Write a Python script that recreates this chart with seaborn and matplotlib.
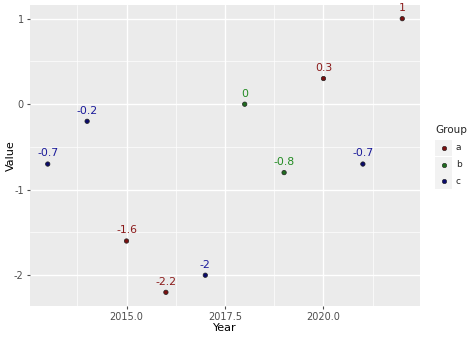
import matplotlib
matplotlib.use("Agg")
import matplotlib.pyplot as plt
import seaborn as sns
import pandas as pd
from matplotlib.lines import Line2D
from matplotlib.patches import Rectangle

years = [2013, 2014, 2015, 2016, 2017, 2018, 2019, 2020, 2021, 2022]
values = [-0.7, -0.2, -1.6, -2.2, -2.0, 0.0, -0.8, 0.3, -0.7, 1.0]
groups = ["c", "c", "a", "a", "c", "b", "b", "a", "c", "a"]
labels = ["-0.7", "-0.2", "-1.6", "-2.2", "-2", "0", "-0.8", "0.3", "-0.7", "1"]
group_levels = ["a", "b", "c"]
point_colors = {"a": "#7a1010", "b": "#1f6b1f", "c": "#0b0b6b"}
text_colors = {"a": "#8B1A1A", "b": "#228B22", "c": "#1a1a9a"}

df = pd.DataFrame({"Year": years, "Value": values, "Group": groups, "Label": labels})

sns.set_theme(style="darkgrid", rc={"axes.facecolor": "#EBEBEB", "grid.color": "white"})
plt.rcParams['font.family'] = ['DejaVu Sans']

fig = plt.figure(figsize=(4.74, 3.38), dpi=100)
ax = fig.add_axes([30/474, 1 - 306/338, 390/474, 301/338])

sns.scatterplot(data=df, x="Year", y="Value", hue="Group", hue_order=group_levels,
                palette=point_colors, s=10, edgecolor="#222222", linewidth=0.5,
                legend=False, ax=ax, zorder=3)

for x, y, g, t in zip(df.Year, df.Value, df.Group, df.Label):
    ax.annotate(t, (x, y), xytext=(0, 4), textcoords="offset points", ha="center",
                va="bottom", color=text_colors[g], fontsize=7.8, clip_on=False,
                annotation_clip=False)

ax.set_xlim(2012.55, 2022.45)
ax.set_ylim(-2.36, 1.16)
ax.set_xticks([2015.0, 2017.5, 2020.0])
ax.set_xticklabels(["2015.0", "2017.5", "2020.0"])
ax.set_yticks([-2, -1, 0, 1])
ax.set_yticklabels(["-2", "-1", "0", "1"])
ax.set_xticks([2013.75, 2016.25, 2018.75, 2021.25], minor=True)
ax.set_yticks([-1.5, -0.5, 0.5], minor=True)
ax.grid(which="major", color="white", linewidth=1.0)
ax.grid(which="minor", color="white", linewidth=0.5)
ax.tick_params(axis="both", which="major", labelsize=7, colors="#4D4D4D", length=2.5,
               width=0.8, direction="out", pad=2, bottom=True, left=True)
ax.tick_params(axis="both", which="minor", length=0, bottom=False, left=False)
for sp in ax.spines.values():
    sp.set_visible(False)
ax.set_xlabel("Year", fontsize=8, color="black", va="center")
ax.set_ylabel("Value", fontsize=8, color="black", va="center")
ax.xaxis.set_label_coords((225 - 30) / 390, (306 - 328) / 301)
ax.yaxis.set_label_coords((11 - 30) / 390, 0.5)

# legend
fig.text(435/474, 1 - 130/338, "Group", fontsize=7.5, va="center", ha="left")
key_y = [148, 165, 181]
for g, ky in zip(group_levels, key_y):
    fig.patches.append(Rectangle((435/474, 1 - (ky + 8)/338), 17/474, 16/338,
                                 transform=fig.transFigure, facecolor="#F2F2F2",
                                 edgecolor="none", zorder=1))
    fig.lines.append(Line2D([443.5/474], [1 - ky/338], transform=fig.transFigure,
                            marker="o", markersize=3.2, color=point_colors[g],
                            markeredgecolor="#222222", markeredgewidth=0.4,
                            linestyle="none", zorder=2))
    fig.text(456/474, 1 - ky/338, g, fontsize=6.5, va="center", ha="left")

fig.savefig("out.png", dpi=100)
